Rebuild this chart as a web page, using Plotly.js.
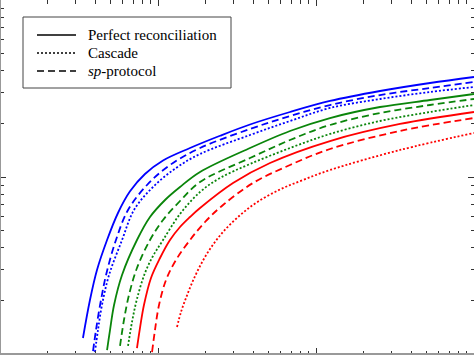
<!DOCTYPE html>
<html>
<head>
<meta charset="utf-8">
<script src="https://cdn.plot.ly/plotly-3.0.1.min.js"></script>
<style>html,body{margin:0;padding:0;background:#fff;}#chart{width:474px;height:355px;}</style>
</head>
<body>
<div id="chart"></div>
<script>
// Block size (x) and key rate (y)
const blueSolidX = [3.35e4, 3.71e4, 4.11e4, 4.76e4, 5.58e4, 6.65e4, 8.27e4, 1.076e5, 1.594e5, 2.469e5, 3.822e5, 6.846e5, 1.226e6, 2.542e6, 5.266e6, 1e7];
const blueSolidY = [0.001231, 0.002018, 0.002982, 0.004405, 0.006261, 0.008300, 0.01040, 0.01240, 0.01458, 0.01710, 0.01980, 0.02329, 0.02688, 0.03061, 0.03397, 0.03673];

const blueDashX = [3.88e4, 4.05e4, 4.30e4, 4.69e4, 5.42e4, 6.46e4, 8.52e4, 1.191e5, 1.845e5, 3.822e5, 6.846e5, 1.226e6, 2.542e6, 5.266e6, 1e7];
const blueDashY = [0.001039, 0.001366, 0.001891, 0.002795, 0.004405, 0.006511, 0.009012, 0.01169, 0.01458, 0.01867, 0.02211, 0.02551, 0.02905, 0.03183, 0.03441];

const blueDotX = [3.99e4, 4.17e4, 4.42e4, 4.90e4, 5.92e4, 7.05e4, 9.30e4, 1.300e5, 1.845e5, 3.822e5, 6.846e5, 1.226e6, 2.542e6, 5.266e6, 1e7];
const blueDotY = [0.001026, 0.001366, 0.001891, 0.002795, 0.004405, 0.006511, 0.008780, 0.01124, 0.01349, 0.01727, 0.02072, 0.02454, 0.02758, 0.03021, 0.03225];

const greenSolidX = [4.76e4, 4.97e4, 5.27e4, 5.92e4, 7.36e4, 8.90e4, 1.108e5, 1.378e5, 1.845e5, 3.822e5, 6.846e5, 1.226e6, 2.542e6, 5.266e6, 1e7];
const greenSolidY = [0.001053, 0.001366, 0.001891, 0.002795, 0.004405, 0.005943, 0.007415, 0.008780, 0.01067, 0.01458, 0.01820, 0.02154, 0.02486, 0.02723, 0.02944];

const greenDashX = [5.75e4, 6.09e4, 6.55e4, 7.36e4, 8.90e4, 1.076e5, 1.378e5, 1.845e5, 3.822e5, 6.846e5, 1.226e6, 2.542e6, 5.266e6, 1e7];
const greenDashY = [0.001110, 0.001556, 0.002154, 0.003061, 0.004405, 0.005716, 0.007318, 0.009371, 0.01280, 0.01618, 0.01967, 0.02299, 0.02551, 0.02758];

const greenDotX = [6.46e4, 6.846e4, 7.36e4, 8.27e4, 9.30e4, 1.076e5, 1.378e5, 1.845e5, 2.469e5, 3.822e5, 6.846e5, 1.226e6, 2.542e6, 5.266e6, 1e7];
const greenDotY = [0.001110, 0.001517, 0.002045, 0.002868, 0.003579, 0.004405, 0.006180, 0.008228, 0.009872, 0.01184, 0.01458, 0.01750, 0.02072, 0.02329, 0.02551];

const redSolidX = [7.36e4, 7.69e4, 8.15e4, 9.03e4, 1.03e5, 1.191e5, 1.378e5, 1.594e5, 1.845e5, 2.984e5, 5.116e5, 1.226e6, 3.401e6, 1e7];
const redSolidY = [0.001081, 0.001402, 0.001891, 0.002688, 0.003486, 0.004405, 0.005216, 0.005943, 0.006682, 0.009250, 0.01200, 0.01597, 0.01993, 0.02329];

const redDashX = [9.17e4, 9.57e4, 1.015e5, 1.124e5, 1.300e5, 1.594e5, 1.984e5, 2.579e5, 3.993e5, 6.846e5, 1.226e6, 3.401e6, 1e7];
const redDashY = [0.001026, 0.001366, 0.001891, 0.002618, 0.003397, 0.004405, 0.005569, 0.006947, 0.009250, 0.01169, 0.01439, 0.01820, 0.02154];

const redDotX = [1.319e5, 1.398e5, 1.504e5, 1.641e5, 1.845e5, 2.134e5, 2.579e5, 3.304e5, 4.232e5, 5.918e5, 8.273e5, 1.226e6, 3.401e6, 1e7];
const redDotY = [0.001420, 0.001727, 0.002072, 0.002518, 0.003142, 0.003920, 0.004890, 0.006080, 0.007200, 0.008500, 0.009618, 0.01095, 0.01421, 0.01773];

const legendLabels = ["Perfect reconciliation", "Cascade", "<i>sp</i>-protocol"];

const BLUE = "#0000ff", GREEN = "#0a850a", RED = "#ff0000";
const SOLID = "solid", DOT = "2px,2px", DASH = "7px,4px";
const W = 1.8;

function tr(x, y, color, dash) {
  return {x: x, y: y, type: "scatter", mode: "lines", showlegend: false, hoverinfo: "skip",
          line: {color: color, width: W, dash: dash, shape: "spline", smoothing: 1}};
}

const data = [
  tr(blueSolidX, blueSolidY, BLUE, SOLID),
  tr(blueDashX, blueDashY, BLUE, DASH),
  tr(blueDotX, blueDotY, BLUE, DOT),
  tr(greenSolidX, greenSolidY, GREEN, SOLID),
  tr(greenDashX, greenDashY, GREEN, DASH),
  tr(greenDotX, greenDotY, GREEN, DOT),
  tr(redSolidX, redSolidY, RED, SOLID),
  tr(redDashX, redDashY, RED, DASH),
  tr(redDotX, redDotY, RED, DOT)
];

// manual legend in paper coordinates (plot area = 474 x 354 px)
const PW = 474, PH = 354;
const px = v => v / PW, py = v => 1 - v / PH;
const rows = [35, 53, 71];
const dashes = [SOLID, DOT, DASH];
const shapes = [
  {type: "rect", xref: "paper", yref: "paper", x0: px(23), x1: px(231), y0: py(17), y1: py(88),
   line: {color: "#444", width: 1}, fillcolor: "#fff", layer: "above"}
];
const annotations = [];
rows.forEach((r, i) => {
  shapes.push({type: "line", xref: "paper", yref: "paper", x0: px(37), x1: px(76), y0: py(r), y1: py(r),
               line: {color: "#000", width: 1.7, dash: dashes[i]}, layer: "above"});
  annotations.push({xref: "paper", yref: "paper", x: px(86), y: py(r), xanchor: "left", yanchor: "middle",
                    text: legendLabels[i], showarrow: false,
                    font: {family: "Liberation Serif, Times New Roman, serif", size: 15, color: "#000"}});
});
// left and bottom frame
shapes.push({type: "line", xref: "paper", yref: "paper", x0: 0, x1: 0, y0: 0, y1: 1, line: {color: "#999", width: 2}});
shapes.push({type: "line", xref: "paper", yref: "paper", x0: 0, x1: 1, y0: 0, y1: 0, line: {color: "#999", width: 2}});

const axisCommon = {
  type: "log", showgrid: false, zeroline: false, showline: false, showticklabels: false,
  ticks: "inside", ticklen: 6, tickwidth: 1, tickcolor: "#333", mirror: "allticks",
  dtick: 1,
  minor: {dtick: "D1", ticks: "inside", ticklen: 3.5, tickwidth: 1, tickcolor: "#333", showgrid: false}
};

const layout = {
  width: 474, height: 355,
  margin: {l: 0, r: 0, t: 0, b: 1, pad: 0},
  paper_bgcolor: "#fff", plot_bgcolor: "#fff",
  xaxis: Object.assign({}, axisCommon, {range: [4, 7]}),
  yaxis: Object.assign({}, axisCommon, {range: [-3, -1]}),
  shapes: shapes,
  annotations: annotations,
  showlegend: false
};

Plotly.newPlot("chart", data, layout, {displayModeBar: false, staticPlot: true});
</script>
</body>
</html>
